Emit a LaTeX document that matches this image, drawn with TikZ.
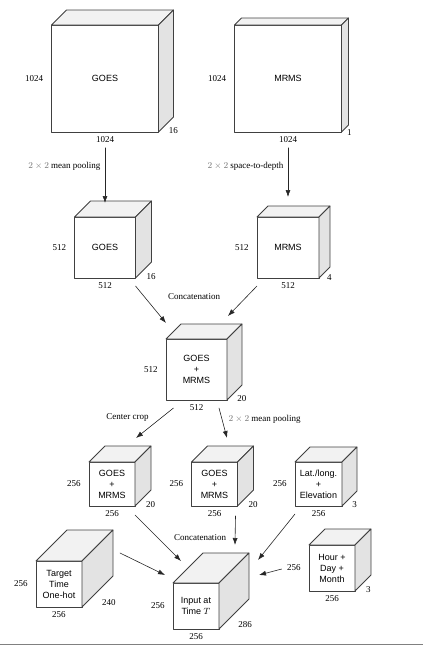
\documentclass[tikz,border=0pt]{standalone}
\usepackage{fontspec}
\setmainfont{Liberation Serif}
\setsansfont{Liberation Sans}
\usetikzlibrary{calc}
\usetikzlibrary{arrows.meta}
\tikzstyle{every node}=[font=\fontsize{9}{11}\selectfont]
\tikzstyle{every path}=[line width=0.8pt,line cap=round,line join=round]
\tikzstyle{face}=[draw=black!75,fill=white,inner sep=0pt,outer sep=0pt,align=center,font=\sffamily\fontsize{9}{11}\selectfont]
\tikzstyle{topface}=[draw=black!75,fill=black!5]
\tikzstyle{sideface}=[draw=black!75,fill=black!11]
\tikzstyle{dim}=[inner sep=1pt]
\tikzstyle{arr}=[-{Latex[length=7pt,width=5pt]},line width=0.6pt,black!85]

% cuboid: name, x, y, width, height, depth, text, size, channels
\newcommand{\cuboid}[9]{%
  \node[face,minimum width=#4,minimum height=#5] (#1) at (#2,#3) {#7};
  \draw[topface] (#1.north west) -- ++(#6,-#6) -- ($(#1.north east)+(#6,-#6)$) -- (#1.north east) -- cycle;
  \draw[sideface] (#1.north east) -- ++(#6,-#6) -- ($(#1.south east)+(#6,-#6)$) -- (#1.south east) -- cycle;
  \node[dim,anchor=east] (#1-l) at ($(#1.west)+(-7,0)$) {#8};
  \node[dim,anchor=north] (#1-b) at ($(#1.south)+(0,3)$) {#8};
  \node[dim,anchor=west] (#1-c) at ($(#1.south east)+(0.6*#6,-0.2*#6+2)$) {#9};
}
\newcommand{\twotwo}{\textcolor{black!55}{$2\times2$}}

\begin{document}
\begin{tikzpicture}[x=1pt,y=-1pt]
    \useasboundingbox (0,0) rectangle (423,646);

    % Raw inputs
    \cuboid{goes}{105}{78.5}{107}{107}{15}{GOES}{1024}{16}
    \cuboid{mrms}{288}{78.5}{107}{107}{7}{MRMS}{1024}{1}

    % Downsampled inputs
    \cuboid{goesd}{105}{247.5}{61}{61}{16}{GOES}{512}{16}
    \cuboid{mrmsd}{288}{247.5}{62}{61}{11}{MRMS}{512}{4}
    \draw[arr] ($(goes-b.south)+(0,4)$) -- ($(goesd.north)+(0,-14)$)
        node[pos=0.33,left=1pt,black] {\twotwo{} mean pooling};
    \draw[arr] ($(mrms-b.south)+(0,4)$) -- ($(mrmsd.north)+(0,-20)$)
        node[pos=0.37,left=1pt,black] {\twotwo{} space-to-depth};

    % Stacked GOES + MRMS
    \cuboid{stack}{196.5}{369.5}{61}{61}{15}{GOES\\+\\MRMS}{512}{20}
    \draw[arr] ($(goesd.south east)+(0,8)$) -- ($(stack.north west)+(0,-16)$);
    \draw[arr] ($(mrmsd.south west)+(0,8)$) -- ($(stack.north east)+(1,-23)$);
    \node (concat) at (194,297) {Concatenation};

    % Cropped and pooled stacks, static fields
    \cuboid{crop}{112}{484}{46}{44}{16}{GOES\\+\\MRMS}{256}{20}
    \cuboid{pool}{214.5}{484}{46}{44}{16}{GOES\\+\\MRMS}{256}{20}
    \cuboid{terrain}{318.5}{484}{47}{44}{15}{Lat./long.\\+\\Elevation}{256}{3}
    \draw[arr] ($(stack.south)+(-23,8)$) -- ($(crop.north east)+(1,-24)$)
        node[pos=0.3,left=10pt,black] {Center crop};
    \draw[arr] ($(stack.south)+(22.5,8)$) -- ($(pool.north)+(12.5,-24)$)
        node[pos=0.37,right=3pt,black] {\twotwo{} mean pooling};

    % Time encodings and final input
    \cuboid{target}{59}{584}{46}{46}{31}{Target\\Time\\One-hot}{256}{240}
    \cuboid{input}{196}{606}{46}{46}{30}{Input at\\Time $T$}{256}{286}
    \cuboid{clock}{332}{568}{46}{46}{16}{Hour +\\Day +\\Month}{256}{3}
    \draw[arr] ($(crop.south east)+(0,9)$) -- ($(input.north west)+(8,-22)$);
    \draw[arr] ($(pool.south east)+(-2,10)$) -- ($(input.north)+(39,-38)$);
    \draw[arr] ($(terrain.south west)+(0,8)$) -- ($(input.north east)+(39,-23)$);
    \draw[arr] ($(target.north east)+(38,-8)$) -- ($(input.west)+(-8,-31)$);
    \draw[arr] ($(clock-l.west)+(-4,1)$) -- ($(input.east)+(40,-31)$);
    \node (concatb) at (200,538) {Concatenation};

    % Rule at the bottom
    \draw[black!50,line width=1.5pt,line cap=butt] (0,644.5) -- (423,644.5);
\end{tikzpicture}
\end{document}
